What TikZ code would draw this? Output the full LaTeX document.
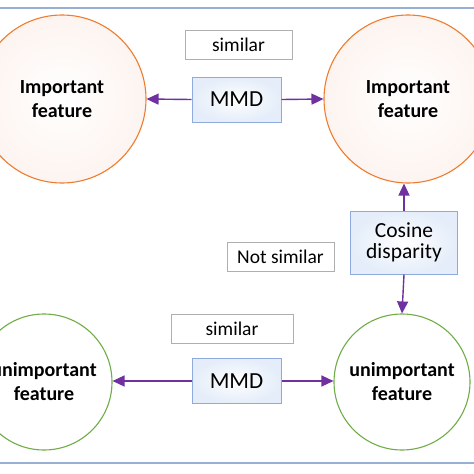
\documentclass[tikz,border=0pt]{standalone}
\usepackage{fontspec}
\setmainfont{Carlito}
\usepackage{tikz}
\usetikzlibrary{arrows.meta,shapes.geometric}

\definecolor{ringorange}{RGB}{237,125,49}
\definecolor{ringgreen}{RGB}{112,173,71}
\definecolor{linkpurple}{RGB}{112,48,160}
\definecolor{boxblue}{RGB}{143,170,220}
\definecolor{boxfill}{RGB}{228,237,249}
\definecolor{boxgray}{RGB}{175,175,175}
\definecolor{ringfill}{RGB}{253,244,240}
\definecolor{rulecolor}{RGB}{150,175,210}

\begin{document}
\begin{tikzpicture}[x=1pt, y=-1pt,
	bigring/.style={circle, draw=ringorange, line width=1.1pt, minimum size=168pt,
		inner color=white, outer color=ringfill, align=center,
		font=\fontsize{20}{24}\selectfont\bfseries},
	smallring/.style={circle, draw=ringgreen, line width=1.1pt, minimum size=136pt,
		fill=white, align=center, font=\fontsize{20}{24}\selectfont\bfseries},
	metricbox/.style={rectangle, draw=boxblue, line width=1pt, inner color=white,
		outer color=boxfill, align=center, inner sep=0pt},
	tagbox/.style={rectangle, draw=boxgray, line width=0.9pt, fill=white,
		inner sep=0pt, font=\fontsize{19.5}{22}\selectfont},
	link/.style={draw=linkpurple, line width=1.4pt,
		-{Triangle[length=12pt,width=11pt]}},
]

% frame %{{{2

	\useasboundingbox (0,0) rectangle (474,474);

	\draw[rulecolor, line width=1.5pt] (0,8) -- (474,8);
	\draw[rulecolor, line width=1.5pt] (0,463) -- (474,463);

% features %{{{2

	\node[bigring] (impL) at (62,99) {Important\\feature};
	\node[bigring] (impR) at (408,99) {Important\\feature};

	\node[smallring] (unimpL) at (44,382) {unimportant\\feature};
	\node[smallring] (unimpR) at (402,382) {unimportant\\feature};

% metrics %{{{2

	\node[metricbox, minimum width=89pt, minimum height=45pt,
		font=\fontsize{23}{26}\selectfont] (mmdTop) at (236.5,99.5) {MMD};
	\node[metricbox, minimum width=89pt, minimum height=45pt,
		font=\fontsize{23}{26}\selectfont] (mmdBot) at (236.5,381) {MMD};
	\node[metricbox, minimum width=107pt, minimum height=63pt,
		font=\fontsize{21.5}{20.5}\selectfont] (cosine) at (404,242.5) {Cosine\\disparity};

% tags %{{{2

	\node[tagbox, minimum width=107pt, minimum height=29pt] (simTop) at (238.5,44.5) {similar};
	\node[tagbox, minimum width=107pt, minimum height=29pt] (notSim) at (280.5,256.5) {Not similar};
	\node[tagbox, minimum width=122pt, minimum height=29pt] (simBot) at (232,328.5) {similar};

% arrows %{{{2

	\draw[link] (mmdTop.west) -- (impL.east);
	\draw[link] (mmdTop.east) -- (impR.west);

	\draw[link] (cosine.north) -- (cosine.north |- impR.south);
	\draw[link] (cosine.south) -- (unimpR.north);

	\draw[link] (mmdBot.west) -- (mmdBot.west -| unimpL.east);
	\draw[link] (mmdBot.east) -- (mmdBot.east -| unimpR.west);

% closing %{{{2

\end{tikzpicture}
\end{document}
